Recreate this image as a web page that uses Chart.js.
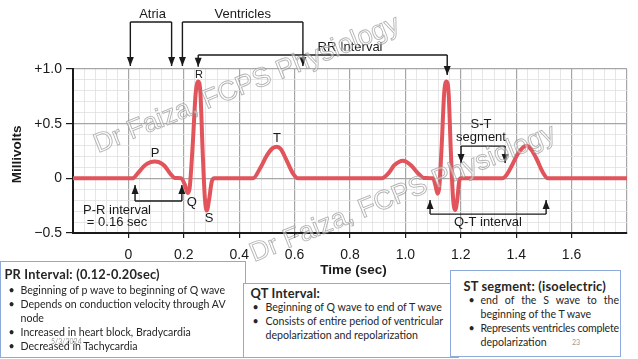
<!DOCTYPE html>
<html>
<head>
<meta charset="utf-8">
<script src="https://cdn.jsdelivr.net/npm/chart.js@4/dist/chart.umd.min.js"></script>
<style>
  body { margin: 0; background: #fff; }
  #wrap { position: relative; width: 638px; height: 359px; overflow: hidden; }
  #ecg { position: absolute; left: 0; top: 0; }
  .box { position: absolute; box-sizing: border-box; border: 1.5px solid #8eaadb; background: #fff;
         font-family: Lato, "Open Sans", sans-serif; font-size: 10.6px; line-height: 14px; color: #262626; }
  .hd { font-weight: bold; white-space: nowrap; font-size: 12.8px; letter-spacing: 0.2px; }
  .li { position: relative; white-space: nowrap; }
  .li::before { content: "\2022"; position: absolute; }
  .just { text-align: justify; text-align-last: justify; white-space: normal; }
  .tight { letter-spacing: -0.2px; }
  .tiny { position: absolute; font-family: Lato, sans-serif; font-size: 7px; color: #9a9a9a; }
  #b1 { left: 0; top: 261px; width: 246px; height: 97px; padding: 5px 0 0 3.5px; background: transparent; }
  #b1 .hd { margin-bottom: 2px; }
  #b1 .li, #b1 .cont { padding-left: 16px; }
  #b1 .li::before { left: 4px; }
  #b2 { left: 243px; top: 283px; width: 216px; height: 75px; padding: 1.5px 0 0 6.5px; }
  #b2 .li, #b2 .cont { padding-left: 15px; }
  #b2 .li::before { left: 2px; }
  #b3 { left: 450px; top: 270px; width: 171px; height: 87px; padding: 7.5px 1px 0 12.5px; }
  #b3 .li, #b3 .cont { padding-left: 17px; }
  #b3 .li::before { left: 5px; }
</style>
</head>
<body>
<div id="wrap">
  <canvas id="ecg" width="638" height="359"></canvas>
  <div class="box" id="b1">
    <div class="hd">PR Interval: (0.12-0.20sec)</div>
    <div class="li">Beginning of p wave to beginning of Q wave</div>
    <div class="li">Depends on conduction velocity through AV</div>
    <div class="cont">node</div>
    <div class="li">Increased in heart block, Bradycardia</div>
    <div class="li">Decreased in Tachycardia</div>
    <span class="tiny" style="left:50px; top:72px;">5/3/2024</span>
  </div>
  <div class="box" id="b2">
    <div class="hd">QT Interval:</div>
    <div class="li">Beginning of Q wave to end of T wave</div>
    <div class="li">Consists of entire period of ventricular</div>
    <div class="cont">depolarization and repolarization</div>
  </div>
  <div class="box" id="b3">
    <div class="hd">ST segment: (isoelectric)</div>
    <div class="li just">end of the S wave to the</div>
    <div class="cont">beginning of the T wave</div>
    <div class="li tight">Represents ventricles complete</div>
    <div class="cont">depolarization</div>
    <span class="tiny" style="left:121px; top:64px;">23</span>
  </div>
</div>
<script>
// ECG trace: time in seconds, amplitude in millivolts
const timeSec = [
  -0.2, 0.015, 0.035, 0.06, 0.08, 0.095, 0.11, 0.13, 0.152, 0.167, 0.19,
  0.204, 0.214, 0.221, 0.232, 0.243, 0.252, 0.26, 0.268, 0.276, 0.283, 0.291, 0.301, 0.31,
  0.45, 0.475, 0.5, 0.522, 0.536, 0.55, 0.572, 0.595, 0.612,
  0.915, 0.94, 0.96, 0.978, 0.99, 1.003, 1.022, 1.048, 1.066, 1.1,
  1.108, 1.116, 1.122, 1.131, 1.14, 1.148, 1.156, 1.164, 1.172, 1.18, 1.187, 1.194, 1.2,
  1.35, 1.365, 1.385, 1.405, 1.425, 1.437, 1.455, 1.475, 1.495, 1.515, 1.8
];
const millivolts = [
  0, 0, 0.05, 0.12, 0.148, 0.155, 0.148, 0.115, 0.04, 0.004, 0,
  -0.06, -0.135, -0.09, 0.3, 0.78, 0.885, 0.78, 0.25, -0.18, -0.295, -0.2, -0.03, 0,
  0, 0.09, 0.21, 0.278, 0.29, 0.268, 0.16, 0.04, 0,
  0, 0.05, 0.12, 0.152, 0.16, 0.152, 0.115, 0.04, 0.004, 0,
  -0.06, -0.14, -0.09, 0.3, 0.78, 0.885, 0.78, 0.25, -0.18, -0.29, -0.2, -0.03, 0,
  0, 0.03, 0.12, 0.22, 0.285, 0.298, 0.26, 0.17, 0.06, 0, 0
];
const xLabelValues = [0, 0.2, 0.4, 0.6, 0.8, 1.0, 1.2, 1.4, 1.6];
const yLabelValues = [1.0, 0.5, 0, -0.5];
const yLabelText = ['+1.0', '+0.5', '0', '\u22120.5'];

function near(a, b) { return Math.abs(a - b) < 1e-6; }
function isMult(v, step) { const r = v / step; return Math.abs(r - Math.round(r)) < 1e-6; }

const ink = '#1a1a1a';
const tickFont = { family: 'Liberation Sans', size: 14 };

function arrow(ctx, x, y0, y1) {
  ctx.beginPath(); ctx.moveTo(x, y0); ctx.lineTo(x, y1); ctx.stroke();
  const d = y1 > y0 ? 1 : -1;
  ctx.beginPath();
  ctx.moveTo(x, y1);
  ctx.lineTo(x - 3.5, y1 - 9 * d);
  ctx.lineTo(x + 3.5, y1 - 9 * d);
  ctx.closePath(); ctx.fill();
}
function bracket(ctx, xa, xb, yLine, yTipA, yTipB) {
  ctx.beginPath(); ctx.moveTo(xa, yLine); ctx.lineTo(xb, yLine); ctx.stroke();
  arrow(ctx, xa, yLine, yTipA);
  arrow(ctx, xb, yLine, yTipB);
}

const ecgNotes = {
  id: 'ecgNotes',
  afterDraw(chart) {
    const { ctx, chartArea: ca } = chart;
    const X = v => chart.scales.x.getPixelForValue(v);
    const Y = v => chart.scales.y.getPixelForValue(v);
    ctx.save();
    ctx.strokeStyle = ink; ctx.fillStyle = ink; ctx.lineWidth = 1.4;
    ctx.textAlign = 'center'; ctx.textBaseline = 'middle';

    // brackets above the grid
    bracket(ctx, X(0.007), X(0.156), Y(1.43), Y(1.027), Y(1.027));
    bracket(ctx, X(0.195), X(0.63), Y(1.43), Y(1.027), Y(1.027));
    bracket(ctx, X(0.252), X(1.151), Y(1.128), Y(1.02), Y(0.945));
    ctx.font = '13px "Liberation Sans"';
    ctx.fillText('Atria', X(0.087), Y(1.503));
    ctx.fillText('Ventricles', X(0.413), Y(1.503));
    ctx.fillText('RR Interval', X(0.8), Y(1.2));

    // interval brackets inside the grid
    bracket(ctx, X(0.024), X(0.193), Y(-0.208), Y(-0.061), Y(-0.061));
    bracket(ctx, X(1.201), X(1.36), Y(0.295), Y(0.14), Y(0.14));
    bracket(ctx, X(1.089), X(1.508), Y(-0.327), Y(-0.198), Y(-0.198));
    ctx.fillText('P-R interval', X(-0.041), Y(-0.29));
    ctx.fillText('= 0.16 sec', X(-0.041), Y(-0.40));
    ctx.fillText('S-T', X(1.273), Y(0.497));
    ctx.fillText('segment', X(1.273), Y(0.378));
    ctx.fillText('Q-T interval', X(1.298), Y(-0.40));

    // wave letters
    ctx.fillText('P', X(0.096), Y(0.23));
    ctx.fillText('Q', X(0.229), Y(-0.217));
    ctx.fillText('S', X(0.291), Y(-0.363));
    ctx.fillText('T', X(0.536), Y(0.369));
    ctx.font = '11px "Liberation Sans"';
    ctx.fillText('R', X(0.255), Y(0.945));

    // axis titles
    ctx.font = 'bold 13.5px "Liberation Sans"';
    ctx.fillText('Time (sec)', X(0.813), ca.bottom + 37);
    ctx.save();
    ctx.translate(ca.left - 56, Y(0.22));
    ctx.rotate(-Math.PI / 2);
    ctx.fillText('Millivolts', 0, 0);
    ctx.restore();

    // watermark
    ctx.font = '27px "Liberation Sans"';
    ctx.textAlign = 'left'; ctx.textBaseline = 'alphabetic';
    ctx.lineWidth = 0.9;
    ctx.strokeStyle = 'rgba(140,140,140,0.65)';
    ctx.fillStyle = 'rgba(255,255,255,0.45)';
    [[98, 153], [254, 262]].forEach(([wx, wy]) => {
      ctx.save();
      ctx.translate(wx, wy);
      ctx.rotate(-22 * Math.PI / 180);
      ctx.fillText('Dr Faiza, FCPS Physiology', 0, 0);
      ctx.strokeText('Dr Faiza, FCPS Physiology', 0, 0);
      ctx.restore();
    });
    ctx.restore();
  }
};

const ctx = document.getElementById('ecg');

const ecgConfig = {
  type: 'line',
  data: {
    datasets: [{
      data: timeSec.map((t, i) => ({ x: t, y: millivolts[i] })),
      borderColor: '#e2545b',
      borderWidth: 4,
      pointRadius: 0,
      fill: false,
      cubicInterpolationMode: 'monotone',
      borderCapStyle: 'round',
      borderJoinStyle: 'round'
    }]
  },
  options: {
    responsive: false,
    animation: false,
    layout: { padding: { top: 69, right: 11, bottom: 0, left: 0 } },
    plugins: {
      legend: { display: false },
      tooltip: { enabled: false },
      title: { display: false }
    },
    scales: {
      x: {
        type: 'linear',
        min: -0.2,
        max: 1.8,
        afterFit: s => { s.height = 126; },
        border: { color: ink, width: 2 },
        grid: {
          color: c => isMult(c.tick.value, 0.2) ? '#a6a6a6' : '#dfdfdf',
          lineWidth: c => isMult(c.tick.value, 0.2) ? 1.2 : 0.8,
          tickColor: c => xLabelValues.some(v => near(v, c.tick.value)) ? ink : 'rgba(0,0,0,0)',
          tickLength: 5
        },
        ticks: {
          stepSize: 0.04,
          maxTicksLimit: 1000,
          autoSkip: false,
          maxRotation: 0,
          minRotation: 0,
          padding: 9,
          color: ink,
          font: tickFont,
          callback: v => {
            const i = xLabelValues.findIndex(l => near(l, v));
            if (i < 0) return '';
            return xLabelValues[i] === 0 ? '0' : xLabelValues[i].toFixed(1);
          }
        }
      },
      y: {
        type: 'linear',
        min: -0.5,
        max: 1.0,
        afterFit: s => { s.width = 73; },
        border: { color: ink, width: 2 },
        grid: {
          color: c => isMult(c.tick.value, 0.5) ? '#a6a6a6' : '#dfdfdf',
          lineWidth: c => isMult(c.tick.value, 0.5) ? 1.2 : 0.8,
          tickColor: c => yLabelValues.some(v => near(v, c.tick.value)) ? ink : 'rgba(0,0,0,0)',
          tickLength: 7
        },
        ticks: {
          stepSize: 0.1,
          maxTicksLimit: 1000,
          autoSkip: false,
          padding: 4,
          color: ink,
          font: tickFont,
          callback: v => {
            const i = yLabelValues.findIndex(l => near(l, v));
            return i < 0 ? '' : yLabelText[i];
          }
        }
      }
    }
  },
  plugins: [ecgNotes]
};

const chart = new Chart(ctx, ecgConfig);
</script>
</body>
</html>
